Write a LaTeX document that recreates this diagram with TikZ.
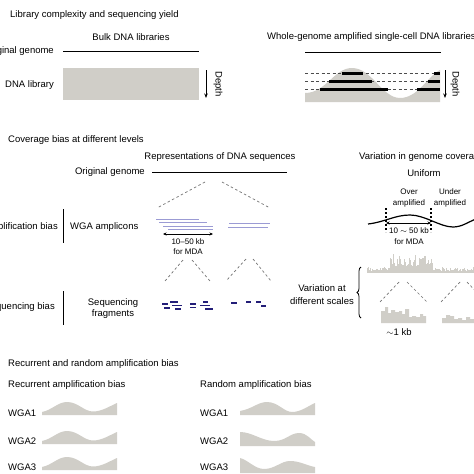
\documentclass[tikz,border=0pt]{standalone}
\usepackage{fontspec}
\setmainfont{Liberation Sans}
\usetikzlibrary{arrows.meta,decorations.pathreplacing}
\tikzset{>=stealth}
\definecolor{libgray}{RGB}{208,206,200}
\definecolor{amplicon}{RGB}{155,155,212}
\definecolor{fragment}{RGB}{35,30,120}
\definecolor{conegray}{RGB}{115,115,115}

\begin{document}
\begin{tikzpicture}[x=1pt, y=-1pt,
	every node/.style={inner sep=0pt, font=\fontsize{9.5}{11}\selectfont},
	small/.style={font=\fontsize{8}{10.5}\selectfont, align=center},
	genome/.style={draw, line width=0.9pt},
	cone/.style={draw=conegray, dash pattern=on 2.5pt off 2.5pt, line width=0.7pt},
	level/.style={draw=black!70, dash pattern=on 3pt off 2.5pt, line width=0.6pt},
	bar/.style={draw, line width=3pt},
	depth/.style={draw, line width=0.9pt, -{Stealth[length=4.5pt,width=3.5pt]}},
	span/.style={draw, line width=0.8pt, {Stealth[length=3.5pt,width=3pt]}-{Stealth[length=3.5pt,width=3pt]}},
	amp/.style={draw=amplicon, line width=0.9pt},
	frag/.style={draw=fragment, line width=1.8pt},
	bias/.style={draw, line width=1pt}]
	\useasboundingbox (0,0) rectangle (474,474);
	\fill[white] (0,0) rectangle (474,474);
	\clip (0,0) rectangle (474,474);
	%% Library complexity
	\node[anchor=west] (libtitle) at (10,15) {Library complexity and sequencing yield};
	\node (bulk) at (131,37) {Bulk DNA libraries};
	\node[anchor=west] (wga) at (267,37) {Whole-genome amplified single-cell DNA libraries};
	\node[anchor=east] (orig1) at (54,51) {Original genome};
	\node[anchor=east] (dnalib) at (54,85) {DNA library};
	\path [genome] (63,51) -- (199,51);
	\path [genome] (305,52) -- (441,52);
	\fill [libgray] (63,68) rectangle (199,100);
	\fill [libgray] (305,102) -- (305,93) .. controls (326,93) and (334,68) .. (352,68)
	.. controls (372,68) and (382,98) .. (400,98) .. controls (418,98) and (428,76) .. (440,70)
	-- (440,102) -- cycle;
	\foreach \y in {73,81,89}
	\path [level] (305,\y) -- (440,\y);
	\path [bar] (342,73) -- (363,73);
	\path [bar] (329,81) -- (372,81);
	\path [bar] (320,89) -- (388,89);
	\path [bar] (434,73) -- (440,73);
	\path [bar] (428,81) -- (440,81);
	\path [bar] (417,89) -- (440,89);
	%% Depth arrows
	\coordinate (d1a) at (206,70);
	\coordinate (d1b) at (206,98);
	\coordinate (d2a) at (445,70);
	\coordinate (d2b) at (445,98);
	\path [depth] (d1a) -- (d1b);
	\path [depth] (d2a) -- (d2b);
	\node[rotate=-90] (depth1) at (218,84) {Depth};
	\node[rotate=-90] (depth2) at (455,84) {Depth};
	%% Coverage bias
	\node[anchor=west] (covtitle) at (8,140) {Coverage bias at different levels};
	\node (repr) at (220,157) {Representations of DNA sequences};
	\node[anchor=east] (orig2) at (145,172) {Original genome};
	\path [genome] (152,172) -- (287,172);
	\path [cone] (205,182) -- (157,208);
	\path [cone] (222,182) -- (270,208);
	\node[anchor=east] (ampbias) at (58,227) {Amplification bias};
	\path [bias] (63,209) -- (63,243);
	\node[anchor=west] (amplicons) at (70,227) {WGA amplicons};
	\path [amp] (156,219) -- (199,219);
	\path [amp] (159,222) -- (207,222);
	\path [amp] (163,226) -- (213,226);
	\path [amp] (168,229) -- (213,229);
	\path [amp] (229,223) -- (270,223);
	\path [amp] (228,227) -- (268,227);
	\coordinate (s1a) at (163,234);
	\coordinate (s1b) at (213,234);
	\path [span] (s1a) -- (s1b);
	\node[small] (kb1) at (188,246.5) {10–50 kb\\for MDA};
	\path [cone] (183,260) -- (165,281);
	\path [cone] (192,260) -- (210,281);
	\path [cone] (246,259) -- (226,281);
	\path [cone] (253,259) -- (271,281);
	\node[anchor=east] (seqbias) at (55,307) {Sequencing bias};
	\path [bias] (63,291) -- (63,325);
	\node[align=center] (seqfrag) at (113,308.5) {Sequencing\\fragments};
	%% Fragments
	\path [frag] (162,304) -- (168,304);
	\path [frag] (164,308) -- (170,308);
	\path [frag] (170,302) -- (178,302);
	\path [frag] (172,305.5) -- (182,305.5);
	\path [frag] (175,309) -- (181,309);
	\path [frag] (190,304) -- (196,304);
	\path [frag] (190,307.5) -- (196,307.5);
	\path [frag] (203,302) -- (208,302);
	\path [frag] (200,305.5) -- (210,305.5);
	\path [frag] (205,309) -- (213,309);
	\path [frag] (231,303) -- (237,303);
	\path [frag] (246,302) -- (251,302);
	\path [frag] (256,302) -- (261,302);
	\path [frag] (261,306) -- (266,306);
	%% Variation in genome coverage
	\node[anchor=west] (vartitle) at (359,157) {Variation in genome coverage};
	\node (uniform) at (424,173) {Uniform};
	\node[small] (over) at (409,198) {Over\\amplified};
	\node[small] (under) at (450,198) {Under\\amplified};
	\path [draw, line width=1.1pt, dash pattern=on 2pt off 2pt] (386,208) -- (386,232);
	\path [draw, line width=1.1pt, dash pattern=on 2pt off 2pt] (431,208) -- (431,232);
	\path [draw, line width=1.2pt] (368,224) .. controls (385,222) and (395,215) .. (410,215)
	.. controls (425,215) and (440,227) .. (453,227) .. controls (462,227) and (468,222) .. (476,219);
	\coordinate (s2a) at (386,223);
	\coordinate (s2b) at (431,223);
	\path [span] (s2a) -- (s2b);
	\node[small] (kb2) at (409,236) {10 $\sim$ 50 kb\\for MDA};
	%% Noisy coverage
	\pgfmathsetseed{11}
	\foreach \x in {367,...,473}{
		\pgfmathsetmacro{\env}{(\x>389 && \x<433) ? 20 : 6}
		\pgfmathsetmacro{\h}{\env*(0.3+0.7*rnd)}
		\fill [libgray] (\x,273) rectangle (\x+1.05,273-\h);
	}
	\path [draw, line width=0.8pt, decorate, decoration={brace, amplitude=4pt}] (361,318) -- (361,267);
	\node[align=center, font=\fontsize{9.5}{12.5}\selectfont] (scales) at (322,294.5) {Variation at\\different scales};
	\path [cone] (399,282) -- (380,302);
	\path [cone] (407,282) -- (427,302);
	\path [cone] (460,282) -- (441,302);
	\path [cone] (467,282) -- (484,300);
	\fill [libgray] (381,323) -- (381,311) -- (385,311) -- (385,307) -- (388,307) -- (388,313)
	-- (391,313) -- (391,310) -- (395,310) -- (395,312) -- (399,312) -- (399,311) -- (402,311)
	-- (402,314) -- (405,314) -- (405,309) -- (409,309) -- (409,317) -- (412,317) -- (412,316)
	-- (416,316) -- (416,317) -- (420,317) -- (420,314) -- (423,314) -- (423,316) -- (426,316)
	-- (426,323) -- cycle;
	\fill [libgray] (442,323) -- (442,318) -- (446,318) -- (446,315) -- (450,315) -- (450,316)
	-- (454,316) -- (454,319) -- (458,319) -- (458,318) -- (462,318) -- (462,320) -- (466,320)
	-- (466,317) -- (470,317) -- (470,319) -- (474,319) -- (474,323) -- cycle;
	\node (onekb) at (399,332) {$\sim$1 kb};
	%% Recurrent and random amplification bias
	\node[anchor=west] (rrtitle) at (8,364) {Recurrent and random amplification bias};
	\node[anchor=west] (rectitle) at (8,385) {Recurrent amplification bias};
	\node[anchor=west] (randtitle) at (200,385) {Random amplification bias};
	\node[anchor=west] (rec1) at (8,413) {WGA1};
	\node[anchor=west] (rec2) at (8,441) {WGA2};
	\node[anchor=west] (rec3) at (8,467) {WGA3};
	\node[anchor=west] (rand1) at (200,413) {WGA1};
	\node[anchor=west] (rand2) at (200,441) {WGA2};
	\node[anchor=west] (rand3) at (200,467) {WGA3};
	\foreach \b in {415,444,470}
	\fill [libgray] (42,\b) -- (42,\b-3) .. controls (52,\b-5) and (58,\b-13) .. (67,\b-13)
	.. controls (78,\b-13) and (84,\b-3.5) .. (93,\b-3.5) .. controls (102,\b-3.5) and (110,\b-9) .. (117,\b-12)
	-- (117,\b) -- cycle;
	\fill [libgray] (240,415) -- (240,411) .. controls (252,409) and (258,402) .. (267,402)
	.. controls (278,402) and (284,412) .. (292,412) .. controls (301,412) and (308,406) .. (315,403)
	-- (315,415) -- cycle;
	\fill [libgray] (240,446) -- (240,432) .. controls (252,432) and (262,441) .. (274,441)
	.. controls (286,441) and (290,433) .. (299,433) .. controls (307,433) and (311,440) .. (315,442)
	-- (315,446) -- cycle;
	\fill [libgray] (240,473) -- (240,458) .. controls (248,460) and (255,469) .. (264,469)
	.. controls (275,469) and (281,461) .. (290,461) .. controls (300,461) and (308,466) .. (315,467)
	-- (315,473) -- cycle;
\end{tikzpicture}
\end{document}
